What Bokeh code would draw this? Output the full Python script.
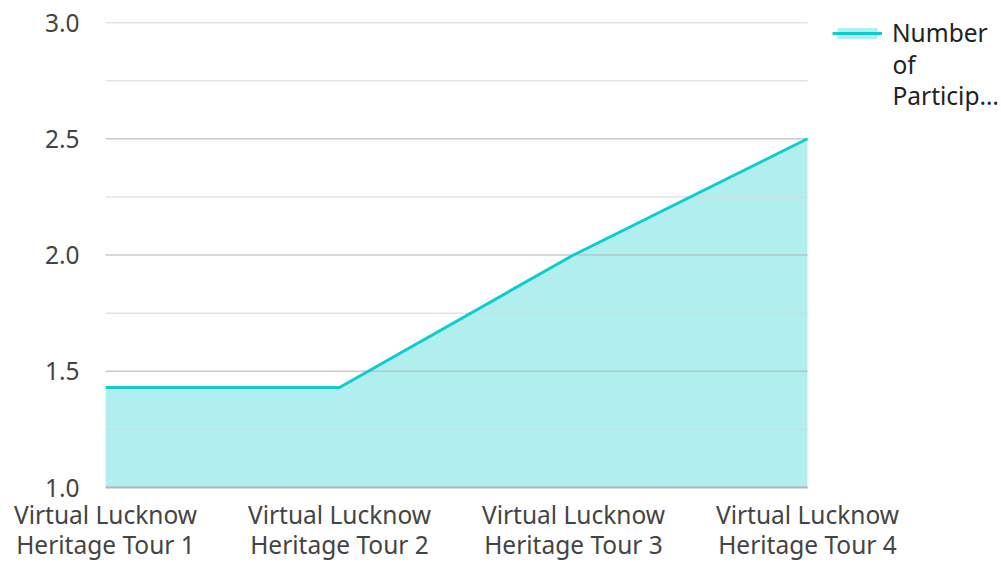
from bokeh.plotting import figure
from bokeh.models import Legend, LegendItem, FixedTicker, ColumnDataSource, Label
from bokeh.embed import file_html
from bokeh.resources import INLINE

tours = ["Virtual Lucknow\nHeritage Tour 1", "Virtual Lucknow\nHeritage Tour 2",
         "Virtual Lucknow\nHeritage Tour 3", "Virtual Lucknow\nHeritage Tour 4"]
participants = [1.43, 1.43, 2.0, 2.5]
series_name_lines = ["Number", "of", "Particip\u2026"]
y_ticks = [1.0, 1.5, 2.0, 2.5, 3.0]
y_minor = [1.25, 1.75, 2.25, 2.75]
y_tick_labels = ["1.0", "1.5", "2.0", "2.5", "3.0"]

xs = list(range(len(tours)))
src = ColumnDataSource(dict(x=xs, y=participants, base=[1.0] * len(xs)))

FONT = "Noto Sans"
TXT = "#444444"
FS = "24.5px"

W, H = 1000, 564
LEFT, TOP, BOTTOM = 105, 22, 75
PX_PER_CAT = 234.0          # layout: horizontal spacing of categories
x_end = (W - LEFT) / PX_PER_CAT

p = figure(width=W, height=H, output_backend="svg", toolbar_location=None,
           x_range=(0, x_end), y_range=(1.0, 3.0),
           min_border_left=LEFT, min_border_right=0, min_border_top=TOP, min_border_bottom=BOTTOM)
p.outline_line_color = None
p.xgrid.grid_line_color = None
p.ygrid.grid_line_color = None

area = p.varea(x="x", y1="base", y2="y", source=src, fill_color="#b0efee")

# horizontal grid lines, limited to the category span
x0, x1 = xs[0], xs[-1]
p.segment(x0=[x0] * len(y_minor), x1=[x1] * len(y_minor), y0=y_minor, y1=y_minor,
          line_color="#d8d8d8", line_width=1.5, line_alpha=0.7)
p.segment(x0=[x0] * len(y_ticks), x1=[x1] * len(y_ticks), y0=y_ticks, y1=y_ticks,
          line_color="#b8b8b8", line_width=1.5, line_alpha=0.75)

line = p.line(x="x", y="y", source=src, line_color="#0fcdcd", line_width=3)

p.xaxis.ticker = FixedTicker(ticks=xs)
p.xaxis.major_label_overrides = {i: t for i, t in enumerate(tours)}
p.xaxis.bounds = (x0, x1)
p.yaxis.ticker = FixedTicker(ticks=y_ticks, minor_ticks=y_minor)
p.yaxis.major_label_overrides = {v: s for v, s in zip(y_ticks, y_tick_labels)}

for ax in (p.xaxis, p.yaxis):
    ax.major_label_text_font = FONT
    ax.major_label_text_font_size = FS
    ax.major_label_text_color = TXT
    ax.major_label_text_line_height = 0.93
    ax.major_tick_line_color = None
    ax.minor_tick_line_color = None
p.yaxis.axis_line_color = None
p.yaxis.major_label_standoff = 20
p.xaxis.axis_line_color = "#b5b5b5"
p.xaxis.axis_line_width = 2
p.xaxis.major_label_standoff = 4

frame_bottom = H - BOTTOM
legend = Legend(items=[LegendItem(label=series_name_lines[0], renderers=[area, line])],
                location=(832 - LEFT, frame_bottom - 21 - 30), margin=0, padding=0,
                glyph_width=50, glyph_height=14,
                label_standoff=10, label_text_font=FONT, label_text_font_size=FS,
                label_text_line_height=0.95,
                label_text_color="#222222", background_fill_alpha=0, border_line_color=None)
p.add_layout(legend)

rest = Label(x=892 - LEFT, y=frame_bottom - 49, x_units="screen", y_units="screen",
             text="\n".join(series_name_lines[1:]), text_font=FONT, text_font_size=FS,
             text_line_height=0.95, text_color="#222222", text_baseline="top", text_align="left")
p.add_layout(rest)

open("out.html", "w").write(file_html(p, INLINE))
